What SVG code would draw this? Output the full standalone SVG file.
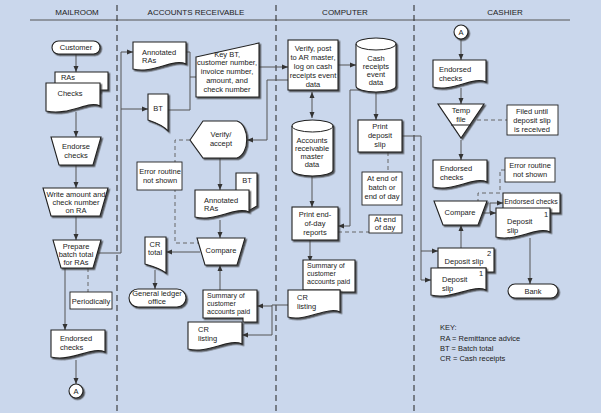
<svg xmlns="http://www.w3.org/2000/svg" width="601" height="413" viewBox="0 0 601 413">
<defs>
<filter id="sh" x="-10%" y="-10%" width="130%" height="130%"><feDropShadow dx="1.5" dy="1.5" stdDeviation="0.3" flood-color="#333" flood-opacity="0.8"/></filter>
<marker id="ar" viewBox="0 0 6 6" refX="6" refY="3" markerWidth="6" markerHeight="6" orient="auto-start-reverse"><path d="M0,0.5 L6,3 L0,5.5 Z" fill="#333"/></marker>
</defs>
<style>
text{font-family:"Liberation Sans",Arial,sans-serif;font-size:7.5px;fill:#222;text-anchor:middle}
.h{font-size:8px}
.l{text-anchor:start}
.sm{font-size:7px}
.s{fill:#fff;stroke:#222;stroke-width:1.1;filter:url(#sh)}
.b{fill:#fff;stroke:#222;stroke-width:0.9}
.c{fill:none;stroke:#555;stroke-width:1}
.a{marker-end:url(#ar)}
.d{fill:none;stroke:#666;stroke-width:1;stroke-dasharray:4 3}
.lane{stroke:#222;stroke-width:1;stroke-dasharray:6 4}
</style>
<rect width="601" height="413" fill="#cad7ec"/>
<g id="lanes">
<line x1="30" y1="20" x2="570" y2="20" stroke="#555"/>
<line class="lane" x1="117" y1="5" x2="117" y2="413"/>
<line class="lane" x1="276" y1="5" x2="276" y2="413"/>
<line class="lane" x1="414" y1="5" x2="414" y2="413"/>
<text class="h" x="77" y="15">MAILROOM</text>
<text class="h" x="196" y="15">ACCOUNTS RECEIVABLE</text>
<text class="h" x="345" y="15">COMPUTER</text>
<text class="h" x="505" y="15">CASHIER</text>
</g>
<g id="connectors">
<path class="c a" d="M76,54 V72"/>
<path class="c a" d="M76,112 V137"/>
<path class="c a" d="M76,165 V188"/>
<path class="c a" d="M76,216 V240"/>
<path class="c a" d="M65,268 V330"/>
<path class="d" d="M88,268 V292"/>
<path class="c a" d="M76,360 V384"/>
<path class="c" d="M97,253 H121 V52"/>
<path class="c a" d="M121,52 H133"/>
<path class="c a" d="M121,109 H148"/>
<path class="c" d="M186,52 H190 V110 H168 M190,77 H198"/>
<path class="c a" d="M259,67 H288"/>
<path class="c a" d="M288,80 H267 V140 H247"/>
<path class="d" d="M190,140 H175 V243 H201"/>
<path class="c a" d="M220,158 V190"/>
<path class="c a" d="M220,220 V238"/>
<path class="c a" d="M200,252 H166"/>
<path class="c a" d="M155,270 V289"/>
<path class="c a" d="M220,292 V265"/>
<path class="c" d="M290,305 H272 V335"/>
<path class="c a" d="M272,306 H257"/>
<path class="c a" d="M272,335 H242"/>
<path class="c a" d="M338,65 H356"/>
<path class="c" d="M312,92 V118" marker-start="url(#ar)" marker-end="url(#ar)"/>
<path class="c a" d="M376,92 V120"/>
<path class="d" d="M388,152 V172"/>
<path class="c a" d="M312,176 V207"/>
<path class="c a" d="M360,90 H350 V226 H338"/>
<path class="d" d="M338,232 H369"/>
<path class="c a" d="M310,240 V262"/>
<path class="c a" d="M402,136 H421 V280 H431"/>
<path class="c a" d="M421,251 H438"/>
<path class="c a" d="M461,39 V60"/>
<path class="c a" d="M461,88 V104"/>
<path class="d" d="M477,120 H507"/>
<path class="c a" d="M461,140 V160"/>
<path class="d" d="M505,170 H500 V193 H478 V201"/>
<path class="c a" d="M461,248 V225"/>
<path class="c a" d="M482,213 H496"/>
<path class="c a" d="M490,213 V203 H503"/>
<path class="c a" d="M530,238 V284"/>
</g>
<g id="customer"><rect class="s" x="52" y="41" width="48" height="13" rx="6.5"/><text x="76" y="50">Customer</text></g>
<g id="ras-checks">
<path class="s" d="M55,72 H108 V90 H100 V92 H55 Z"/><text x="68" y="80">RAs</text>
<path class="s" d="M46,83 H100 V106 C88,100 70,116 46,111 Z"/><text x="70" y="96">Checks</text>
</g>
<g id="endorse"><path class="s" d="M51,137 H101 L93,165 H59 Z"/><text x="76" y="149">Endorse</text><text x="76" y="158">checks</text></g>
<g id="write"><path class="s" d="M43,188 H108 L100,216 H51 Z"/><text x="76" y="197">Write amount and</text><text x="76" y="205">check number</text><text x="76" y="213">on RA</text></g>
<g id="prepare"><path class="s" d="M53,240 H101 L93,268 H61 Z"/><text x="76" y="249">Prepare</text><text x="76" y="257">batch total</text><text x="76" y="265">for RAs</text></g>
<g id="periodically"><rect class="b" x="70" y="292" width="42" height="17"/><text x="91" y="304">Periodically</text></g>
<g id="endorsed1"><path class="s" d="M51,330 H105 V352 C92,346 72,362 51,357 Z"/><text class="l" x="60" y="341">Endorsed</text><text class="l" x="60" y="350">checks</text></g>
<g id="a1"><circle class="s" cx="76" cy="391" r="7"/><text x="76" y="394">A</text></g>

<g id="annotated1"><path class="s" d="M133,42 H186 V64 C173,58 153,74 133,69 Z"/><text class="l" x="142" y="55">Annotated</text><text class="l" x="142" y="63">RAs</text></g>
<g id="bt1"><path class="s" d="M148,94 H168 V131 C163,125 154,122 148,120 Z"/><text x="158" y="111">BT</text></g>
<g id="keybt"><path class="s" d="M196,57 L259,43 V97 H196 Z"/><text x="240" y="57" style="text-anchor:end">Key BT,</text><text x="227" y="65">customer number,</text><text x="227" y="74">invoice number,</text><text x="227" y="83">amount, and</text><text x="227" y="92">check number</text></g>
<g id="verify-accept"><path class="s" d="M190,140 L203,121 H237 C250,125 250,154 237,158 H203 Z"/><text x="221" y="137">Verify/</text><text x="221" y="146">accept</text></g>
<g id="error1"><rect class="b" x="137" y="162" width="45" height="28"/><text x="160" y="174">Error routine</text><text x="160" y="183">not shown</text></g>
<g id="annotated2">
<path class="s" d="M236,173 H257 V206 L250,210 H236 Z"/><text x="247" y="183">BT</text>
<path class="s" d="M195,190 H249 V212 C236,206 215,222 195,217 Z"/><text class="l" x="204" y="203">Annotated</text><text class="l" x="204" y="211">RAs</text>
</g>
<g id="compare1"><path class="s" d="M197,238 H245 L237,265 H205 Z"/><text x="221" y="253">Compare</text></g>
<g id="crtotal"><path class="s" d="M145,237 H166 V273 C160,268 152,266 145,264 Z"/><text x="155" y="247">CR</text><text x="155" y="255">total</text></g>
<g id="gl"><rect class="s" x="129" y="289" width="57" height="18" rx="9"/><text x="157" y="296">General ledger</text><text x="157" y="304">office</text></g>
<g id="summary1">
<path class="s" d="M203,290 H257 V322 H243 V318 H203 Z"/><text class="l sm" x="207" y="298">Summary of</text><text class="l sm" x="207" y="306">customer</text><text class="l sm" x="207" y="314">accounts paid</text>
<path class="s" d="M188,322 H242 V344 C229,338 208,354 188,349 Z"/><text class="l" x="198" y="332">CR</text><text class="l" x="198" y="341">listing</text>
</g>

<g id="verify-post"><rect class="s" x="288" y="40" width="50" height="50"/><text x="313" y="51">Verify, post</text><text x="313" y="60">to AR master,</text><text x="313" y="69">log on cash</text><text x="313" y="78">receipts event</text><text x="313" y="87">data</text></g>
<g id="cash-db"><path class="s" d="M356,44 A20,6 0 0 1 396,44 V86 A20,6 0 0 1 356,86 Z"/><path d="M356,44 A20,6 0 0 0 396,44" fill="none" stroke="#222"/><text x="376" y="61">Cash</text><text x="376" y="69">receipts</text><text x="376" y="77">event</text><text x="376" y="85">data</text></g>
<g id="ar-db"><path class="s" d="M292,126 A20.5,6 0 0 1 333,126 V170 A20.5,6 0 0 1 292,170 Z"/><path d="M292,126 A20.5,6 0 0 0 333,126" fill="none" stroke="#222"/><text x="312" y="143">Accounts</text><text x="312" y="151">receivable</text><text x="312" y="159">master</text><text x="312" y="167">data</text></g>
<g id="print-deposit"><rect class="s" x="358" y="120" width="44" height="32"/><text x="380" y="129">Print</text><text x="380" y="138">deposit</text><text x="380" y="147">slip</text></g>
<g id="endbatch"><rect class="b" x="362" y="172" width="40" height="33"/><text x="382" y="181">At end of</text><text x="382" y="190">batch or</text><text x="382" y="199">end of day</text></g>
<g id="print-eod"><rect class="s" x="292" y="207" width="46" height="33"/><text x="315" y="217">Print end-</text><text x="315" y="226">of-day</text><text x="315" y="235">reports</text></g>
<g id="endday"><rect class="b" x="369" y="215" width="33" height="18"/><text x="385" y="222">At end</text><text x="385" y="230">of day</text></g>
<g id="summary2">
<path class="s" d="M303,260 H355 V292 H340 V290 H303 Z"/><text class="l sm" x="307" y="268">Summary of</text><text class="l sm" x="307" y="276">customer</text><text class="l sm" x="307" y="284">accounts paid</text>
<path class="s" d="M288,290 H340 V312 C327,306 306,322 288,317 Z"/><text class="l" x="297" y="300">CR</text><text class="l" x="297" y="309">listing</text>
</g>

<g id="a2"><circle class="s" cx="461" cy="32" r="7"/><text x="461" y="35">A</text></g>
<g id="endorsed2"><path class="s" d="M433,60 H486 V82 C473,76 453,92 433,87 Z"/><text class="l" x="439" y="72">Endorsed</text><text class="l" x="439" y="81">checks</text></g>
<g id="tempfile"><path class="s" d="M438,104 H484 L461,138 Z"/><line x1="451" y1="125" x2="471" y2="125" stroke="#222"/><text x="461" y="113">Temp</text><text x="461" y="122">file</text></g>
<g id="filed"><rect class="b" x="507" y="105" width="51" height="30"/><text x="532" y="114">Filed until</text><text x="532" y="123">deposit slip</text><text x="532" y="132">is received</text></g>
<g id="endorsed3"><path class="s" d="M433,160 H487 V182 C474,176 453,192 433,187 Z"/><text class="l" x="440" y="171">Endorsed</text><text class="l" x="440" y="180">checks</text></g>
<g id="error2"><rect class="b" x="505" y="158" width="50" height="24"/><text x="530" y="168">Error routine</text><text x="530" y="177">not shown</text></g>
<g id="compare2"><path class="s" d="M434,201 H487 L478,225 H443 Z"/><text x="460" y="215">Compare</text></g>
<g id="out-docs">
<path class="s" d="M503,193 H560 V213 H550 V210 H503 Z"/><text class="sm" x="531" y="204">Endorsed checks</text>
<path class="s" d="M496,208 H550 V232 C537,226 516,242 496,237 Z"/><text x="546" y="217">1</text><text class="l" x="507" y="224">Deposit</text><text class="l" x="507" y="233">slip</text>
</g>
<g id="in-docs">
<path class="s" d="M438,248 H494 V272 H486 V268 H438 Z"/><text x="489" y="256">2</text><text x="464" y="264">Deposit slip</text>
<path class="s" d="M431,268 H486 V290 C473,284 452,300 431,295 Z"/><text x="481" y="276">1</text><text class="l" x="442" y="282">Deposit</text><text class="l" x="442" y="291">slip</text>
</g>
<g id="bank"><rect class="s" x="508" y="284" width="50" height="14" rx="7"/><text x="533" y="294">Bank</text></g>
<g id="key"><text class="l" x="440" y="330">KEY:</text><text class="l" x="440" y="341">RA = Remittance advice</text><text class="l" x="440" y="351">BT = Batch total</text><text class="l" x="440" y="361">CR = Cash receipts</text></g>
</svg>
